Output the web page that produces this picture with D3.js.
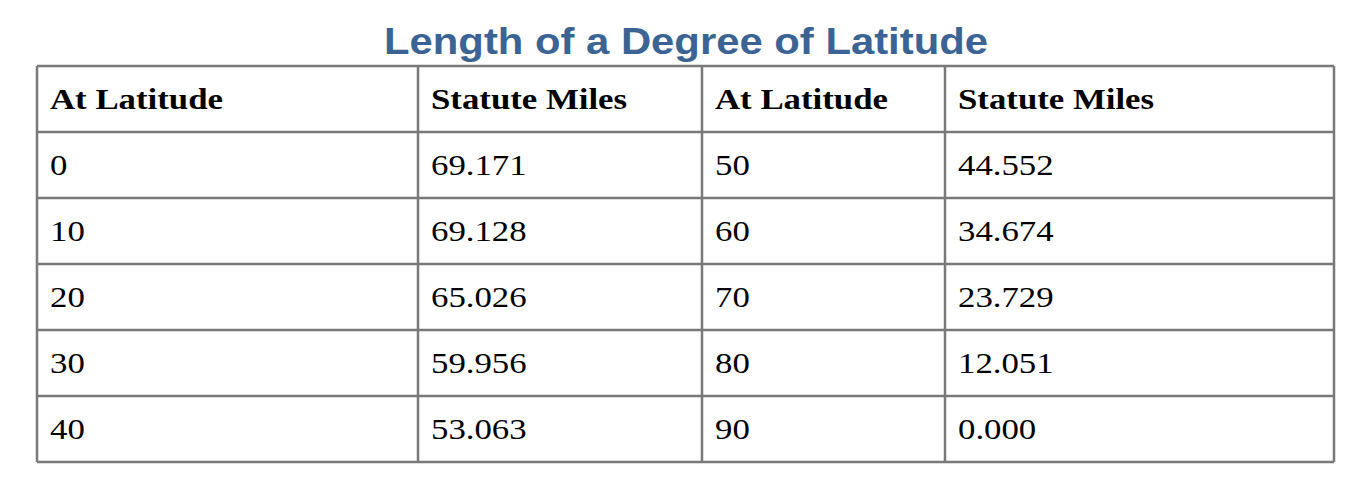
<!DOCTYPE html>
<html>
<head>
<meta charset="utf-8">
<script src="https://cdn.jsdelivr.net/npm/d3@7"></script>
<style>
  body { margin: 0; background: #fff; }
</style>
</head>
<body>
<svg id="chart" width="1366" height="478"></svg>
<script>
const title = 'Length of a Degree of Latitude';
const headers = ['At Latitude', 'Statute Miles', 'At Latitude', 'Statute Miles'];
const latitudesLeft = ['0', '10', '20', '30', '40'];
const milesLeft = ['69.171', '69.128', '65.026', '59.956', '53.063'];
const latitudesRight = ['50', '60', '70', '80', '90'];
const milesRight = ['44.552', '34.674', '23.729', '12.051', '0.000'];

const rows = latitudesLeft.map((d, i) => [d, milesLeft[i], latitudesRight[i], milesRight[i]]);

const svg = d3.select('#chart');

// column edges and row edges
const colEdges = [37, 418, 702, 945, 1334];
const x = d3.scaleOrdinal().domain(d3.range(4)).range(colEdges.slice(0, 4));
const y = d3.scaleLinear().domain([0, 6]).range([66, 462]);
const rowH = y(1) - y(0);

svg.append('text')
  .attr('x', 686)
  .attr('y', 54)
  .attr('text-anchor', 'middle')
  .attr('font-family', 'Liberation Sans, Arial, sans-serif')
  .attr('font-weight', 'bold')
  .attr('font-size', 36)
  .attr('textLength', 604)
  .attr('lengthAdjust', 'spacingAndGlyphs')
  .attr('fill', '#3b6394')
  .text(title);

const grid = svg.append('g')
  .attr('stroke', '#7a7a7a')
  .attr('stroke-width', 2.5);

d3.range(7).forEach(r => {
  grid.append('line')
    .attr('x1', colEdges[0]).attr('x2', colEdges[4])
    .attr('y1', y(r)).attr('y2', y(r));
});
colEdges.forEach(c => {
  grid.append('line')
    .attr('x1', c).attr('x2', c)
    .attr('y1', y(0)).attr('y2', y(6));
});

const allRows = [headers].concat(rows);

svg.append('g')
  .selectAll('g')
  .data(allRows)
  .enter()
  .append('g')
  .each(function (row, r) {
    d3.select(this).selectAll('text')
      .data(row)
      .enter()
      .append('text')
      .attr('x', (d, c) => x(c) + 13)
      .attr('y', y(r) + rowH / 2 + 10)
      .attr('font-family', 'Liberation Serif, DejaVu Serif, serif')
      .attr('font-size', 29)
      .attr('font-weight', r === 0 ? 'bold' : 'normal')
      .attr('fill', '#000')
      .attr('transform', (d, c) => `translate(${x(c) + 13},0) scale(1.2,1) translate(${-(x(c) + 13)},0)`)
      .text(d => d);
  });
</script>
</body>
</html>
